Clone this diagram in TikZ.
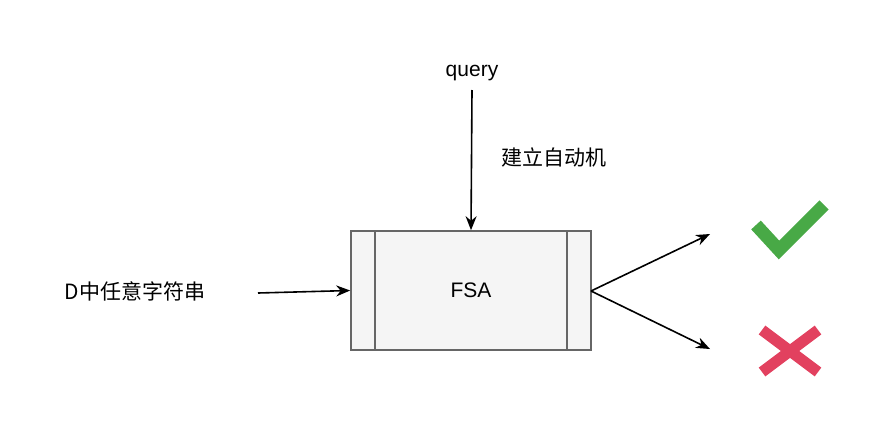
\documentclass[tikz,border=0pt]{standalone}
\usepackage{fontspec}
\setmainfont{Liberation Sans}
\newfontfamily\cjk{Noto Sans CJK SC}
\usetikzlibrary{arrows.meta}
\definecolor{boxfill}{HTML}{F5F5F5}
\definecolor{boxline}{HTML}{666666}
\definecolor{okgreen}{HTML}{48A946}
\definecolor{nored}{HTML}{E2415F}
\begin{document}
\begin{tikzpicture}[x=1pt,y=-1pt,
  lbl/.style={font=\fontsize{21}{25}\selectfont\cjk, inner sep=1pt},
  arr/.style={draw=black, line width=1.6pt, -{Stealth[length=14pt,width=11pt]}}]
\useasboundingbox (0,0) rectangle (882,442);
\node[draw=boxline, fill=boxfill, line width=1.6pt, minimum width=240pt, minimum height=119pt, inner sep=0pt] (fsa) at (471,290.5) {\fontsize{21}{25}\selectfont FSA};
\draw[boxline, line width=1.6pt] (375,231) -- (375,350) (567,231) -- (567,350);
\node[lbl, font=\fontsize{21}{25}\selectfont] (q) at (472,73) {query};
\node[lbl] (b) at (554,157) {建立自动机};
\node[lbl] (d) at (135,291) {D中任意字符串};
\coordinate (ds) at (258,293);
\coordinate (qs) at (472,90);
\coordinate (o) at (591,291);
\coordinate (up) at (710,234);
\coordinate (dn) at (710,349);
\draw[arr] (qs) -- (fsa.north);
\draw[arr] (ds) -- (fsa.west);
\draw[arr] (o) -- (up);
\draw[arr] (o) -- (dn);
\draw[okgreen, line width=13pt] (756,225) -- (779,250) -- (824,205);
\draw[nored, line width=11pt] (762,330) -- (818,372) (818,330) -- (762,372);
\end{tikzpicture}
\end{document}
